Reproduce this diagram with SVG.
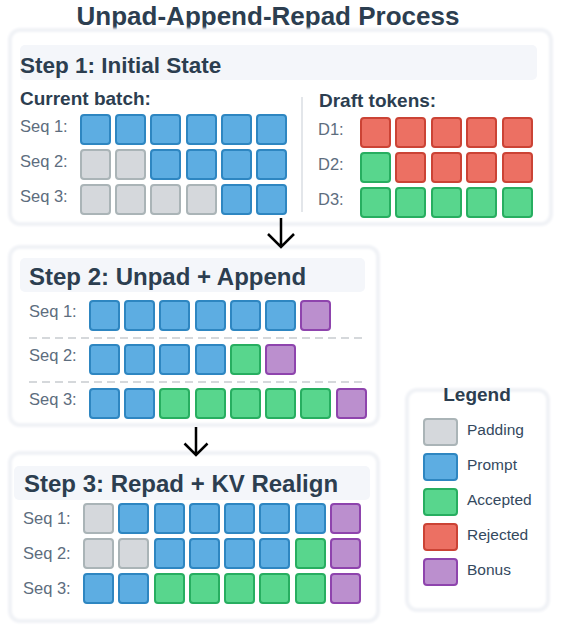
<svg xmlns="http://www.w3.org/2000/svg" width="565" height="631" viewBox="0 0 565 631">
<defs>
<style>
text{font-family:"Liberation Sans",Arial,sans-serif}
.ttl{font-size:26px;font-weight:bold;fill:#2c3e50}
.hd1{font-size:22.5px;font-weight:bold;fill:#2c3e50}
.hd{font-size:24px;font-weight:bold;fill:#2c3e50}
.sub{font-size:19px;font-weight:bold;fill:#2c3e50}
.lab{font-size:16.5px;fill:#5d6d7e}
.leg{font-size:15.5px;fill:#34495e}
.panel{fill:#fff;stroke:#f0f2f6;stroke-width:4}
.band{fill:#f4f6fa}
.c{stroke-width:2}
.pad{fill:#d5d8dc;stroke:#aab4b7}
.pr{fill:#5dade2;stroke:#2e86c1}
.ac{fill:#58d68d;stroke:#27ae60}
.rj{fill:#ec7063;stroke:#cb4335}
.bo{fill:#bb8fce;stroke:#8e44ad}
.dash{stroke:#c8ccd0;stroke-width:1.5;stroke-dasharray:8 5}
.arr{fill:none;stroke:#000;stroke-width:2.5}
</style>
<filter id="soft" x="-5%" y="-5%" width="110%" height="110%"><feGaussianBlur stdDeviation="1.2"/></filter>
<rect id="cell" width="29" height="29" rx="3"/>
</defs>
<rect width="565" height="631" fill="#fff"/>
<text class="ttl" x="268" y="25" text-anchor="middle">Unpad-Append-Repad Process</text>

<g id="step1">
<rect class="panel" x="10" y="30" width="541" height="194" rx="10" filter="url(#soft)"/>
<rect class="band" x="20" y="45" width="517" height="35" rx="5"/>
<text class="hd1" x="20" y="73">Step 1: Initial State</text>
<text class="sub" x="20" y="105">Current batch:</text>
<text class="sub" x="319" y="107">Draft tokens:</text>
<line x1="302" y1="97" x2="302" y2="212" stroke="#e3e6ea" stroke-width="2"/>
<text class="lab" x="20" y="132">Seq 1:</text>
<text class="lab" x="20" y="167">Seq 2:</text>
<text class="lab" x="20" y="202">Seq 3:</text>
<g class="c">
<use href="#cell" class="pr" x="81" y="115"/><use href="#cell" class="pr" x="116" y="115"/><use href="#cell" class="pr" x="151" y="115"/><use href="#cell" class="pr" x="187" y="115"/><use href="#cell" class="pr" x="222" y="115"/><use href="#cell" class="pr" x="257" y="115"/>
<use href="#cell" class="pad" x="81" y="150"/><use href="#cell" class="pad" x="116" y="150"/><use href="#cell" class="pr" x="151" y="150"/><use href="#cell" class="pr" x="187" y="150"/><use href="#cell" class="pr" x="222" y="150"/><use href="#cell" class="pr" x="257" y="150"/>
<use href="#cell" class="pad" x="81" y="185"/><use href="#cell" class="pad" x="116" y="185"/><use href="#cell" class="pad" x="151" y="185"/><use href="#cell" class="pad" x="187" y="185"/><use href="#cell" class="pr" x="222" y="185"/><use href="#cell" class="pr" x="257" y="185"/>
</g>
<text class="lab" x="318" y="135">D1:</text>
<text class="lab" x="318" y="170">D2:</text>
<text class="lab" x="318" y="205">D3:</text>
<g class="c">
<use href="#cell" class="rj" x="361" y="118"/><use href="#cell" class="rj" x="396" y="118"/><use href="#cell" class="rj" x="432" y="118"/><use href="#cell" class="rj" x="467" y="118"/><use href="#cell" class="rj" x="503" y="118"/>
<use href="#cell" class="ac" x="361" y="153"/><use href="#cell" class="rj" x="396" y="153"/><use href="#cell" class="rj" x="432" y="153"/><use href="#cell" class="rj" x="467" y="153"/><use href="#cell" class="rj" x="503" y="153"/>
<use href="#cell" class="ac" x="361" y="188"/><use href="#cell" class="ac" x="396" y="188"/><use href="#cell" class="ac" x="432" y="188"/><use href="#cell" class="ac" x="467" y="188"/><use href="#cell" class="ac" x="503" y="188"/>
</g>
</g>

<g id="step2">
<rect class="panel" x="10" y="247" width="368" height="178" rx="10" filter="url(#soft)"/>
<rect class="band" x="20" y="258" width="345" height="34" rx="5"/>
<text class="hd" x="29" y="285">Step 2: Unpad + Append</text>
<text class="lab" x="29" y="317">Seq 1:</text>
<text class="lab" x="29" y="361">Seq 2:</text>
<text class="lab" x="29" y="405">Seq 3:</text>
<line class="dash" x1="29" y1="338" x2="366" y2="338"/>
<line class="dash" x1="29" y1="382" x2="366" y2="382"/>
<g class="c">
<use href="#cell" class="pr" x="90" y="301"/><use href="#cell" class="pr" x="125" y="301"/><use href="#cell" class="pr" x="160" y="301"/><use href="#cell" class="pr" x="196" y="301"/><use href="#cell" class="pr" x="231" y="301"/><use href="#cell" class="pr" x="266" y="301"/><use href="#cell" class="bo" x="301" y="301"/>
<use href="#cell" class="pr" x="90" y="345"/><use href="#cell" class="pr" x="125" y="345"/><use href="#cell" class="pr" x="160" y="345"/><use href="#cell" class="pr" x="196" y="345"/><use href="#cell" class="ac" x="231" y="345"/><use href="#cell" class="bo" x="266" y="345"/>
<use href="#cell" class="pr" x="90" y="389"/><use href="#cell" class="pr" x="125" y="389"/><use href="#cell" class="ac" x="160" y="389"/><use href="#cell" class="ac" x="196" y="389"/><use href="#cell" class="ac" x="231" y="389"/><use href="#cell" class="ac" x="266" y="389"/><use href="#cell" class="ac" x="301" y="389"/><use href="#cell" class="bo" x="337" y="389"/>
</g>
</g>

<g id="step3">
<rect class="panel" x="10" y="453" width="368" height="168" rx="10" filter="url(#soft)"/>
<rect class="band" x="14" y="466" width="356" height="34" rx="5"/>
<text class="hd" x="24" y="492">Step 3: Repad + KV Realign</text>
<text class="lab" x="23" y="524">Seq 1:</text>
<text class="lab" x="23" y="559">Seq 2:</text>
<text class="lab" x="23" y="594">Seq 3:</text>
<g class="c">
<use href="#cell" class="pad" x="84" y="504"/><use href="#cell" class="pr" x="119" y="504"/><use href="#cell" class="pr" x="155" y="504"/><use href="#cell" class="pr" x="190" y="504"/><use href="#cell" class="pr" x="225" y="504"/><use href="#cell" class="pr" x="260" y="504"/><use href="#cell" class="pr" x="296" y="504"/><use href="#cell" class="bo" x="331" y="504"/>
<use href="#cell" class="pad" x="84" y="539"/><use href="#cell" class="pad" x="119" y="539"/><use href="#cell" class="pr" x="155" y="539"/><use href="#cell" class="pr" x="190" y="539"/><use href="#cell" class="pr" x="225" y="539"/><use href="#cell" class="pr" x="260" y="539"/><use href="#cell" class="ac" x="296" y="539"/><use href="#cell" class="bo" x="331" y="539"/>
<use href="#cell" class="pr" x="84" y="574"/><use href="#cell" class="pr" x="119" y="574"/><use href="#cell" class="ac" x="155" y="574"/><use href="#cell" class="ac" x="190" y="574"/><use href="#cell" class="ac" x="225" y="574"/><use href="#cell" class="ac" x="260" y="574"/><use href="#cell" class="ac" x="296" y="574"/><use href="#cell" class="bo" x="331" y="574"/>
</g>
</g>

<g id="legend">
<rect class="panel" x="407" y="390" width="141" height="220" rx="10" filter="url(#soft)"/>
<text class="sub" x="477" y="401" text-anchor="middle">Legend</text>
<g class="c">
<rect class="pad" x="424" y="419" width="33" height="26" rx="3"/>
<rect class="pr" x="424" y="454" width="33" height="26" rx="3"/>
<rect class="ac" x="424" y="489" width="33" height="26" rx="3"/>
<rect class="rj" x="424" y="524" width="33" height="26" rx="3"/>
<rect class="bo" x="424" y="559" width="33" height="26" rx="3"/>
</g>
<text class="leg" x="467" y="435">Padding</text>
<text class="leg" x="467" y="470">Prompt</text>
<text class="leg" x="467" y="505">Accepted</text>
<text class="leg" x="467" y="540">Rejected</text>
<text class="leg" x="467" y="575">Bonus</text>
</g>

<g id="connectors">
<path class="arr" d="M281 218V247M268 234L281 247L294 234"/>
<path class="arr" d="M196 427V455M184.5 443.5L196 455L207.5 443.5"/>
</g>
</svg>
